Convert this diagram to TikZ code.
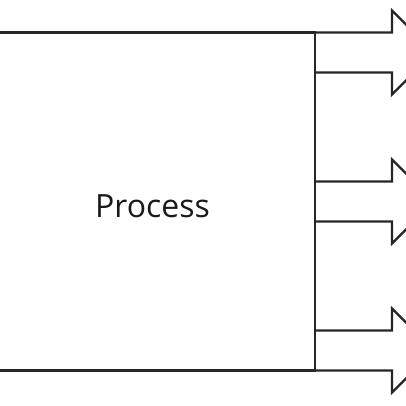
\documentclass[tikz,border=0pt]{standalone}
\usepackage{fontspec}
\setmainfont{Open Sans}
\usetikzlibrary{positioning}
\tikzstyle{processbox} = [rectangle, minimum width=325pt, minimum height=338pt, draw=black!85, line width=2.2pt]
\tikzstyle{title} = [font=\fontsize{32}{38}\selectfont, text=black!90]
\tikzstyle{blockarrow} = [draw=black!85, line width=2.2pt, line join=miter]

\begin{document}
\begin{tikzpicture}[x=1pt, y=-1pt]
  \useasboundingbox (0,0) rectangle (406,406);
  \clip (0,0) rectangle (406,406);

  % Process box
  \node (process) [processbox] at (152.5,201.5) {};
  \node (label) [title] at ([yshift=-5pt]process.center) {Process};

  % Outputs
  \foreach \c in {52.5,201.5,350.5}
    \draw [blockarrow] (315,\c-20) -- ++(77,0) -- ++(0,-22) -- (434,\c)
      -- (392,\c+42) -- ++(0,-22) -- (315,\c+20);

\end{tikzpicture}
\end{document}
